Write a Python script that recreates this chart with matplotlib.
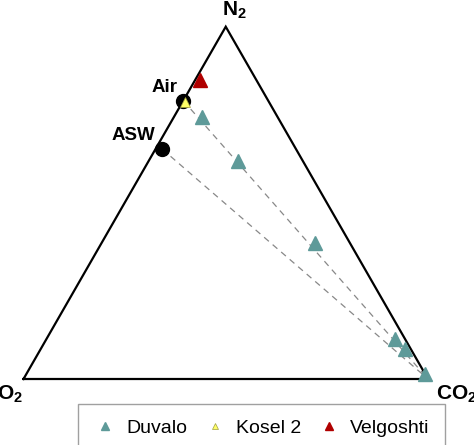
import numpy as np
import matplotlib
matplotlib.use("Agg")
import matplotlib.pyplot as plt

plt.rcParams['font.family'] = ['Liberation Sans', 'DejaVu Sans']
plt.rcParams['mathtext.fontset'] = 'custom'
plt.rcParams['mathtext.rm'] = 'Liberation Sans'
plt.rcParams['mathtext.bf'] = 'Liberation Sans:bold'

# gas composition in % (N2, CO2); O2 is the remainder
duvalo_n2 = [74.5, 61.9, 38.7, 11.4, 8.4, 1.4]
duvalo_co2 = [6.8, 22.2, 52.7, 86.2, 90.1, 98.6]
kosel_n2 = [78.7]
kosel_co2 = [0.6]
velgoshti_n2 = [85.0]
velgoshti_co2 = [1.2]

ref_names = ['Air', 'ASW']
ref_n2 = [79.0, 65.3]
ref_co2 = [0.0, 1.6]

H = 352.3 / 404.5   # triangle height in x units (as drawn)


def tern(n2, co2):
    n2 = np.asarray(n2) / 100.0
    co2 = np.asarray(co2) / 100.0
    return co2 + n2 / 2.0, n2 * H


def px(xp, yp):
    # pixel position -> data position (for placing text only)
    return (xp - 23.5) / 404.5, (379 - yp) / 404.5


fig = plt.figure(figsize=(4.74, 4.45), dpi=100)
ax = fig.add_axes([0, 0, 1, 1])
ax.set_xlim(-23.5 / 404.5, (474 - 23.5) / 404.5)
ax.set_ylim(-(445 - 379) / 404.5, 379 / 404.5)
ax.axis('off')

# triangle frame
ax.plot([0, 1, 0.5, 0], [0, 0, H, 0], color='black', lw=1.6, zorder=2,
        solid_joinstyle='miter')

# mixing lines towards CO2
for n2, co2 in zip(ref_n2, ref_co2):
    x0, y0 = tern(n2, co2)
    ax.plot([x0, 1.0], [y0, 0.0], color='#888888', lw=0.9,
            dashes=(5, 4), zorder=1)

# reference points
rx, ry = tern(ref_n2, ref_co2)
ax.plot(rx, ry, 'o', color='black', ms=10, zorder=3, linestyle='none')

dx, dy = tern(duvalo_n2, duvalo_co2)
ax.plot(dx, dy, '^', color='#5e9a99', ms=9.5, linestyle='none', zorder=4,
        label='Duvalo')
kx, ky = tern(kosel_n2, kosel_co2)
ax.plot(kx, ky, '^', color='#ffff66', mec='#a0a040', mew=0.5, ms=7.5,
        linestyle='none', zorder=4, label='Kosel 2')
vx, vy = tern(velgoshti_n2, velgoshti_co2)
ax.plot(vx, vy, '^', color='#b00000', ms=9.5, linestyle='none', zorder=4,
        label='Velgoshti')

# labels
bold = dict(fontsize=13.5, fontweight='bold')
ax.text(*px(178, 88), ref_names[0], ha='right', va='center', **bold)
ax.text(*px(155, 135), ref_names[1], ha='right', va='center', **bold)
ax.text(*px(234, 16), r'$\mathbf{N_2}$', ha='center', va='baseline', fontsize=15)
ax.text(*px(23, 400), r'$\mathbf{O_2}$', ha='right', va='baseline', fontsize=15)
ax.text(*px(436, 400), r'$\mathbf{CO_2}$', ha='left', va='baseline', fontsize=15)

leg = ax.legend(loc='upper left', bbox_to_anchor=(78 / 474, 1 - 404 / 445),
                bbox_transform=fig.transFigure, ncol=3, fontsize=14,
                frameon=True, fancybox=False, edgecolor='#888888',
                markerscale=0.65, handlelength=1.2, handletextpad=0.5,
                columnspacing=0.8, borderpad=0.8, borderaxespad=0)
leg.get_frame().set_linewidth(1.0)

fig.savefig('out.png', dpi=100)
